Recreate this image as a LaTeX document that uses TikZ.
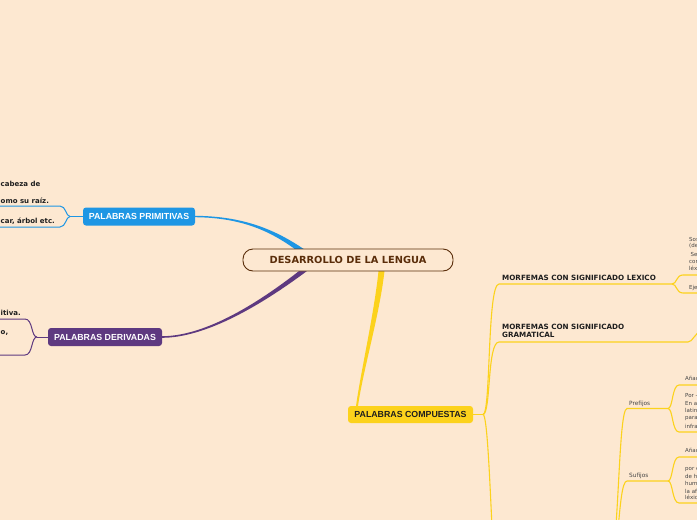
\documentclass[tikz,border=0pt]{standalone}
\usepackage{fontspec}
\newfontfamily\dvs{DejaVu Sans}
\newfontfamily\lib{Liberation Sans}
\definecolor{bg}{RGB}{253,232,209}
\definecolor{bluec}{RGB}{30,150,228}
\definecolor{purpc}{RGB}{94,57,128}
\definecolor{yelc}{RGB}{252,210,28}
\definecolor{brownc}{RGB}{90,45,10}
\definecolor{txt}{RGB}{30,30,30}
\definecolor{gtxt}{RGB}{70,70,70}
\begin{document}
\begin{tikzpicture}[x=1pt,y=-1pt,
  topic/.style={rounded corners=3pt, inner sep=0pt, text=white, font=\lib\bfseries\fontsize{8.8}{10}\selectfont},
  sub/.style={anchor=base west, inner sep=0pt, text=txt, font=\dvs\bfseries\fontsize{7}{8}\selectfont},
  morf/.style={anchor=base west, inner sep=0pt, text=txt, font=\dvs\bfseries\fontsize{7.2}{8}\selectfont},
  small/.style={anchor=base west, inner sep=0pt, text=gtxt, font=\dvs\fontsize{5.5}{6.5}\selectfont},
  bl/.style={draw=bluec, line width=1pt},
  pl/.style={draw=purpc, line width=1pt},
  yl/.style={draw=yelc, line width=1.1pt},
]
\useasboundingbox (0,0) rectangle (697,520);
\clip (0,0) rectangle (697,520);
\fill[bg] (0,0) rectangle (697,520);

% tapered main connectors
\fill[bluec] (193,215.8) .. controls (248,215.8) and (281,232.5) .. (311.8,254.6) -- (308.2,259.4) .. controls (279,235.5) and (248,217.2) .. (193,217.2) -- cycle;
\fill[purpc] (162,336.2) .. controls (205,336.2) and (259,303.8) .. (310.4,262) -- (313.6,266) .. controls (261,306.2) and (205,337.8) .. (162,337.8) -- cycle;
\fill[yelc] (356,406) .. controls (361,370) and (375,310) .. (379,266) -- (385,266) .. controls (381,310) and (363,370) .. (358,406) -- cycle;

% nodes
\node[draw=brownc, line width=0.9pt, fill=bg, rounded corners=10pt, minimum width=210pt, minimum height=22pt, inner sep=0pt, text=brownc, font=\dvs\bfseries\fontsize{9.8}{11}\selectfont] (center) at (348,260) {DESARROLLO DE LA LENGUA};
\node[topic, fill=bluec, minimum width=112pt, minimum height=18pt] (prim) at (139,216.5) {PALABRAS PRIMITIVAS};
\node[topic, fill=purpc, minimum width=114pt, minimum height=18pt] (deriv) at (105,337) {PALABRAS DERIVADAS};
\node[topic, fill=yelc, text=txt, minimum width=125pt, minimum height=17pt] (comp) at (410.5,414.5) {PALABRAS COMPUESTAS};

% blue sub connectors
\coordinate (bj) at (70,216.5);
\draw[bl] (prim.west) -- (bj);
\draw[bl] (bj) .. controls (66,216.5) and (66,206) .. (60,206) -- (-2,206);
\draw[bl] (bj) .. controls (66,216.5) and (66,227) .. (60,227) -- (-2,227);

% purple sub connectors
\coordinate (pjn) at (37,337);
\draw[pl] (deriv.west) -- (pjn);
\draw[pl] (pjn) .. controls (31,337) and (33,319) .. (25,319) -- (-2,319);
\draw[pl] (pjn) .. controls (31,337) and (33,355) .. (25,355) -- (-2,355);

% yellow sub connectors
\coordinate (yj) at (483,414.5);
\draw[yl] (comp.east) -- (yj);
\draw[yl] (yj) .. controls (491,414.5) and (487,284) .. (499,284) -- (672,284);
\draw[yl] (yj) .. controls (491,414.5) and (487,342) .. (499,342) -- (688,342) .. controls (693,342) and (694,333) .. (702,331);
\draw[yl] (yj) .. controls (491,414.5) and (493,650) .. (503,650);
\draw[yl] (672,284) .. controls (677,284) and (676,275) .. (683,275) -- (700,275);
\draw[yl] (672,284) .. controls (677,284) and (676,293) .. (683,293) -- (700,293);

\coordinate (aj) at (605,580);
\draw[yl] (aj) .. controls (620,580) and (617,408.5) .. (627,408.5) -- (668,408.5);
\draw[yl] (aj) .. controls (620,580) and (617,481) .. (627,481) -- (668,481);
\draw[yl] (668,408.5) .. controls (673,408.5) and (672,385) .. (679,385) -- (700,385);
\draw[yl] (668,408.5) .. controls (673,408.5) and (672,432) .. (679,432) -- (700,432);
\draw[yl] (668,481) .. controls (673,481) and (672,457) .. (679,457) -- (700,457);
\draw[yl] (668,481) .. controls (673,481) and (672,503) .. (679,503) -- (700,503);

% left texts
\node[sub] (l1) at (0.5,186) {cabeza de};
\node[sub] (l2) at (0.5,203) {omo su raíz.};
\node[sub] (l3) at (0.5,223) {car, árbol etc.};
\node[sub] (d1) at (0.5,315) {itiva.};
\node[sub] (d2) at (0.5,334) {o,};

% morfemas
\node[morf] (m1) at (502,280) {MORFEMAS CON SIGNIFICADO LEXICO};
\node[morf] (m2a) at (502,329) {MORFEMAS CON SIGNIFICADO};
\node[morf] (m2b) at (502,337) {GRAMATICAL};

\node[small, font=\dvs\fontsize{5.8}{7}\selectfont] (pre) at (629,405) {Prefijos};
\node[small, font=\dvs\fontsize{5.8}{7}\selectfont] (suf) at (629,477) {Sufijos};

% right edge texts
\node[small] (r1) at (689,241) {Sos};
\node[small] (r2) at (689,247) {(de};
\node[small] (r3) at (690.5,256) {Se};
\node[small] (r4) at (689,263) {con};
\node[small] (r5) at (689,270) {léx};
\node[small] (r6) at (689,289) {Eje};

\node[small] (p1) at (685,380) {Añad};
\node[small] (p2) at (685,397) {Por -};
\node[small] (p3) at (685,405) {En a};
\node[small] (p4) at (685,412) {latin};
\node[small] (p5) at (685,419) {para};
\node[small] (p6) at (685,428) {infra};

\node[small] (s1) at (685,452) {Añad};
\node[small] (s2) at (685,470) {por e};
\node[small] (s3) at (685,478) {de h};
\node[small] (s4) at (685,485) {hum};
\node[small] (s5) at (685,493) {la af};
\node[small] (s6) at (685,499) {léxic};
\end{tikzpicture}
\end{document}
